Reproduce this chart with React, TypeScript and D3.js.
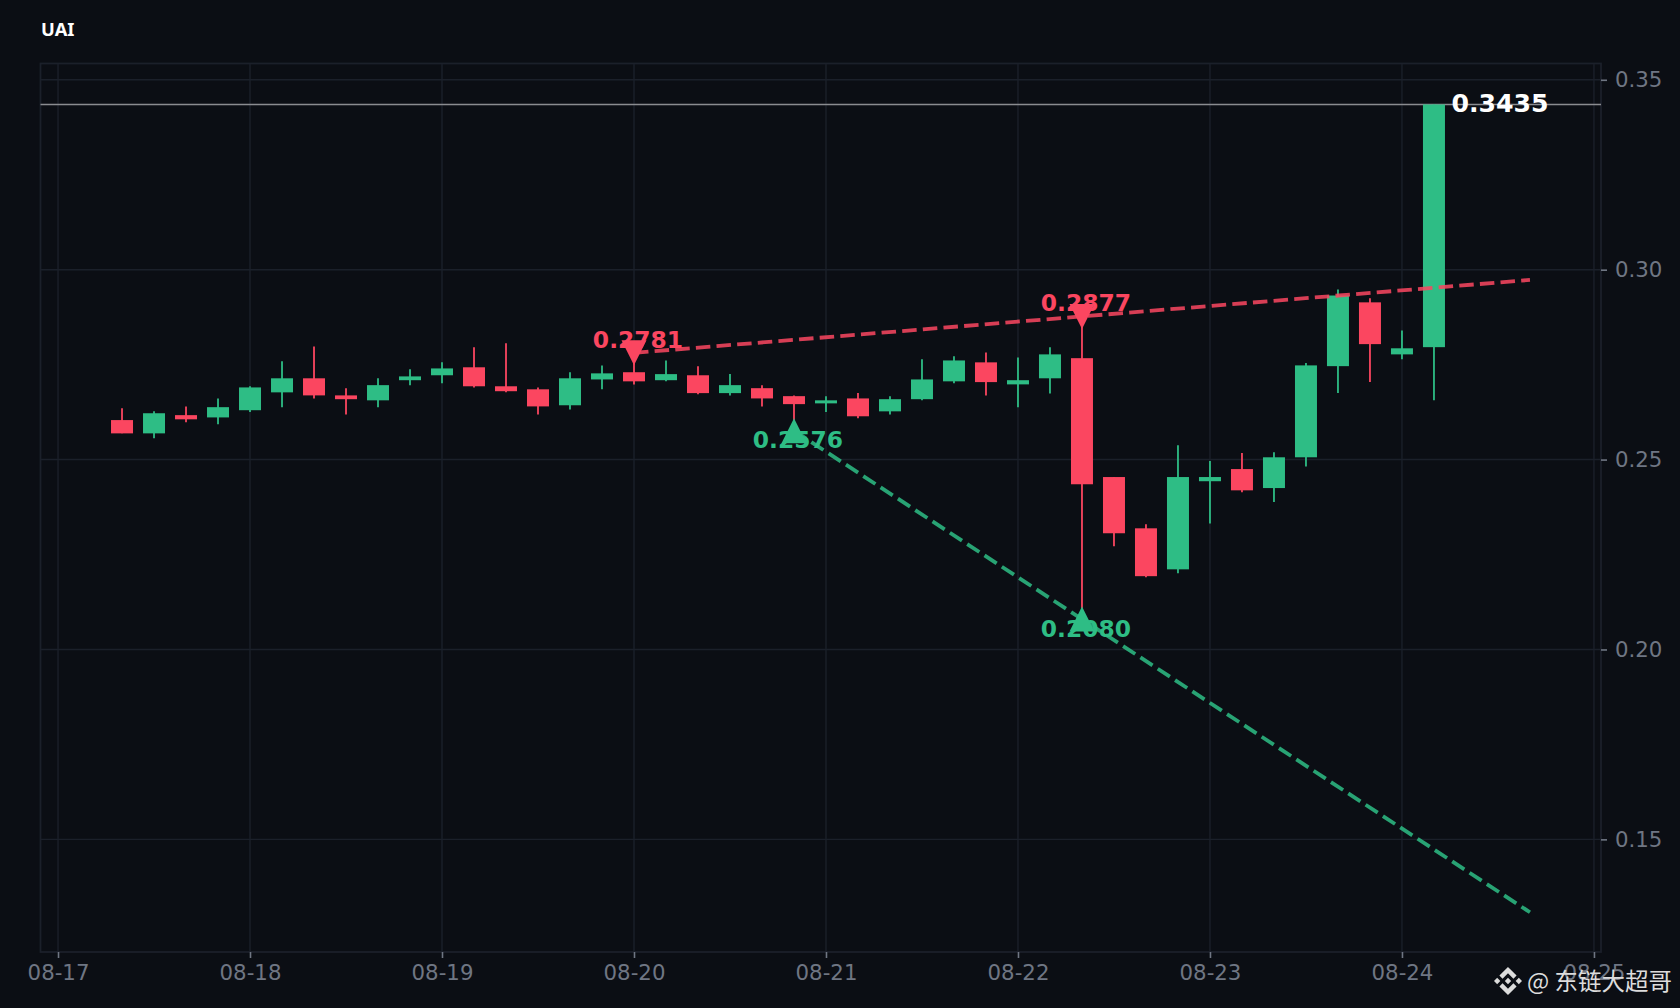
import React from 'react';
import * as d3 from 'd3';

// Data

const symbol = 'UAI';
const dayLabels = ['08-17', '08-18', '08-19', '08-20', '08-21', '08-22', '08-23', '08-24', '08-25'];
const priceTicks = [0.15, 0.2, 0.25, 0.3, 0.35];

const opens = [
    0.2604, 0.2569, 0.2617, 0.2611, 0.263, 0.2677, 0.2714, 0.2669, 0.2656, 0.2709, 0.2722, 0.2743, 0.2693, 0.2685,
    0.2643, 0.2711, 0.273, 0.2709, 0.2722, 0.2675, 0.2688, 0.2667, 0.2648, 0.2661, 0.2627, 0.2659, 0.2706, 0.2756,
    0.2698, 0.2714, 0.2767, 0.2454, 0.2319, 0.2211, 0.2443, 0.2475, 0.2425, 0.2506, 0.2746, 0.2914, 0.2777, 0.2796,
];
const highs = [
    0.2635, 0.2627, 0.264, 0.2661, 0.2693, 0.2759, 0.2798, 0.2688, 0.2714, 0.2738, 0.2756, 0.2796, 0.2806, 0.269,
    0.273, 0.2748, 0.2781, 0.2761, 0.2746, 0.2725, 0.2696, 0.2669, 0.2667, 0.2675, 0.2667, 0.2764, 0.2772, 0.2782,
    0.2769, 0.2796, 0.2877, 0.2454, 0.233, 0.2538, 0.2496, 0.2517, 0.2519, 0.2754, 0.2948, 0.2925, 0.284, 0.3435,
];
const lows = [
    0.2569, 0.2556, 0.2598, 0.2593, 0.2625, 0.2638, 0.2661, 0.2619, 0.2638, 0.2696, 0.2701, 0.269, 0.2677, 0.2619,
    0.2632, 0.2685, 0.2698, 0.2706, 0.2672, 0.2669, 0.264, 0.2576, 0.2625, 0.2609, 0.2619, 0.2656, 0.2701, 0.2669,
    0.2638, 0.2674, 0.208, 0.2272, 0.219, 0.2201, 0.2332, 0.2414, 0.2388, 0.2482, 0.2675, 0.2704, 0.2764, 0.2656,
];
const closes = [
    0.2569, 0.2622, 0.2606, 0.2638, 0.269, 0.2714, 0.2669, 0.2659, 0.2696, 0.2719, 0.274, 0.2693, 0.268, 0.264,
    0.2714, 0.2727, 0.2706, 0.2725, 0.2675, 0.2696, 0.2661, 0.2646, 0.2656, 0.2614, 0.2659, 0.2711, 0.2761, 0.2704,
    0.2709, 0.2777, 0.2435, 0.2306, 0.2193, 0.2454, 0.2454, 0.2419, 0.2506, 0.2748, 0.2932, 0.2804, 0.2793, 0.3435,
];

const lastPrice = 0.3435;
const resistanceValues = [0.2781, 0.2973];
const supportValues = [0.2576, 0.1308];
const swingHighIndexes = [16, 30];
const swingLowIndexes = [21, 30];

// Layout

const width = 1680;
const height = 1008;
const left = 40.5;
const right = 1601;
const top = 63.5;
const bottom = 952;

const bg = '#0b0e14';
const gridColor = '#1b202a';
const tickColor = '#6f7683';
const up = '#2ebd85';
const down = '#fb4660';

const hour = 3600 * 1000;
const firstDay = Date.UTC(2025, 7, 17);
const firstCandle = firstDay + 8 * hour;
const lineEnd = new Date(Date.UTC(2025, 7, 24, 16));
const candleTime = (i: number) => new Date(firstCandle + i * 4 * hour);
const dayTimes = dayLabels.map((_, i) => new Date(firstDay + i * 24 * hour));

const binancePaths = [
    'M38.73 53.2L63.3 28.63l24.59 24.58 14.3-14.3L63.3 0 24.42 38.9z',
    'M0 63.31l14.3-14.3 14.3 14.3-14.3 14.3z',
    'M38.73 73.41L63.3 97.98l24.59-24.58 14.31 14.29-.01.01-38.89 38.9-38.88-38.88-.02-.02z',
    'M98.01 63.31l14.3-14.3 14.3 14.3-14.3 14.3z',
    'M77.83 63.3L63.3 48.76 52.56 59.5l-1.24 1.24-2.54 2.54 14.52 14.53 14.53-14.5z',
];

function App() {
    const ref = React.useRef<SVGSVGElement>(null);

    React.useEffect(() => {
        document.body.style.margin = '0';
        document.body.style.background = bg;

        const svg = d3.select(ref.current);
        svg.selectAll('*').remove();

        const x = d3.scaleUtc()
            .domain([new Date(firstDay - 2.19 * hour), new Date(firstDay + 192.88 * hour)])
            .range([left, right]);
        const y = d3.scaleLinear().domain([0.12034, 0.35429]).range([bottom, top]);

        // grid
        const grid = svg.append('g').attr('stroke', gridColor).attr('stroke-width', 1.4);
        grid.selectAll('line.v').data(dayTimes).join('line')
            .attr('x1', (d) => x(d)).attr('x2', (d) => x(d)).attr('y1', top).attr('y2', bottom);
        grid.selectAll('line.h').data(priceTicks).join('line')
            .attr('x1', left).attr('x2', right).attr('y1', (d) => y(d)).attr('y2', (d) => y(d));

        svg.append('rect')
            .attr('x', left).attr('y', top).attr('width', right - left).attr('height', bottom - top)
            .attr('fill', 'none').attr('stroke', gridColor).attr('stroke-width', 1.8);

        // axes
        const xAxis = d3.axisBottom(x).tickValues(dayTimes)
            .tickFormat((_, i) => dayLabels[i]).tickSize(6).tickPadding(7);
        const yAxis = d3.axisRight(y).tickValues(priceTicks)
            .tickFormat((d) => (d as number).toFixed(2)).tickSize(6).tickPadding(8);
        for (const [axis, transform] of [
            [xAxis, `translate(0,${bottom})`],
            [yAxis, `translate(${right},0)`],
        ] as any) {
            const g = svg.append('g').attr('transform', transform).call(axis);
            g.select('.domain').remove();
            g.selectAll('line').attr('stroke', tickColor).attr('stroke-width', 1.6);
            g.selectAll('text')
                .attr('fill', tickColor)
                .style('font-family', '"DejaVu Sans"')
                .style('font-size', '21.3px');
        }

        // last price line
        svg.append('line')
            .attr('x1', left).attr('x2', right).attr('y1', y(lastPrice)).attr('y2', y(lastPrice))
            .attr('stroke', '#8a8c90').attr('stroke-width', 1.5);

        // candles
        const candles = svg.append('g').selectAll('g').data(opens).join('g');
        const color = (i: number) => (closes[i] >= opens[i] ? up : down);
        candles.append('line')
            .attr('x1', (_, i) => x(candleTime(i))).attr('x2', (_, i) => x(candleTime(i)))
            .attr('y1', (_, i) => y(highs[i])).attr('y2', (_, i) => y(lows[i]))
            .attr('stroke', (_, i) => color(i)).attr('stroke-width', 1.8);
        candles.append('rect')
            .attr('x', (_, i) => x(candleTime(i)) - 11)
            .attr('width', 22)
            .attr('y', (_, i) => y(Math.max(opens[i], closes[i])))
            .attr('height', (_, i) => Math.abs(y(opens[i]) - y(closes[i])))
            .attr('fill', (_, i) => color(i));

        // trend lines
        const trend = d3.line<[Date, number]>().x((d) => x(d[0])).y((d) => y(d[1]));
        const trends: [number, number[], string][] = [
            [swingHighIndexes[0], resistanceValues, down],
            [swingLowIndexes[0], supportValues, up],
        ];
        trends.forEach(([start, values, stroke]) => {
            svg.append('path')
                .attr('d', trend([[candleTime(start), values[0]], [lineEnd, values[1]]]))
                .attr('fill', 'none')
                .attr('stroke', stroke)
                .attr('stroke-opacity', 0.85)
                .attr('stroke-width', 3.8)
                .attr('stroke-dasharray', '14.5,6.2');
        });

        // swing markers and their labels
        const tri = (cx: number, cy: number, dir: number) =>
            `M${cx - 12.5},${cy - dir * 12.5}L${cx + 12.5},${cy - dir * 12.5}L${cx},${cy + dir * 12.5}Z`;
        const labelStyle = (t: d3.Selection<SVGTextElement, unknown, null, undefined>, fill: string) =>
            t.attr('fill', fill)
                .attr('text-anchor', 'middle')
                .style('font-family', '"DejaVu Sans"')
                .style('font-weight', 700)
                .style('font-size', '23.4px');

        swingHighIndexes.forEach((i) => {
            const cx = x(candleTime(i));
            const cy = y(highs[i]);
            svg.append('path').attr('d', tri(cx, cy, 1)).attr('fill', down);
            svg.append('text').attr('x', cx + 4).attr('y', cy - 5).text(highs[i].toFixed(4)).call(labelStyle, down);
        });
        swingLowIndexes.forEach((i) => {
            const cx = x(candleTime(i));
            const cy = y(lows[i]);
            svg.append('path').attr('d', tri(cx, cy, -1)).attr('fill', up);
            svg.append('text').attr('x', cx + 4).attr('y', cy + 17.5).text(lows[i].toFixed(4)).call(labelStyle, up);
        });

        // last price label
        svg.append('text')
            .attr('x', x(candleTime(opens.length - 1)) + 17.5)
            .attr('y', y(lastPrice) + 7.5)
            .attr('fill', '#ffffff')
            .style('font-family', '"DejaVu Sans"')
            .style('font-weight', 700)
            .style('font-size', '25.2px')
            .text(lastPrice.toFixed(4));

        // title
        svg.append('text')
            .attr('x', 41).attr('y', 36)
            .attr('fill', '#ffffff')
            .style('font-family', '"Noto Sans"')
            .style('font-weight', 700)
            .style('font-size', '18.3px')
            .text(symbol);

        // watermark
        const mark = svg.append('g').attr('transform', 'translate(1494,967) scale(0.221)').attr('fill', '#dcdcdc');
        binancePaths.forEach((d) => mark.append('path').attr('d', d));
        svg.append('text')
            .attr('x', 1527).attr('y', 990)
            .attr('fill', '#dcdcdc')
            .style('font-family', '"Noto Sans CJK SC"')
            .style('font-size', '23.5px')
            .text('@ 东链大超哥');
    }, []);

    return (
        <svg
            ref={ref}
            width={width}
            height={height}
            viewBox={`0 0 ${width} ${height}`}
            style={{ position: 'absolute', left: 0, top: 0, background: bg, display: 'block' }}
        />
    );
}

export default App;
